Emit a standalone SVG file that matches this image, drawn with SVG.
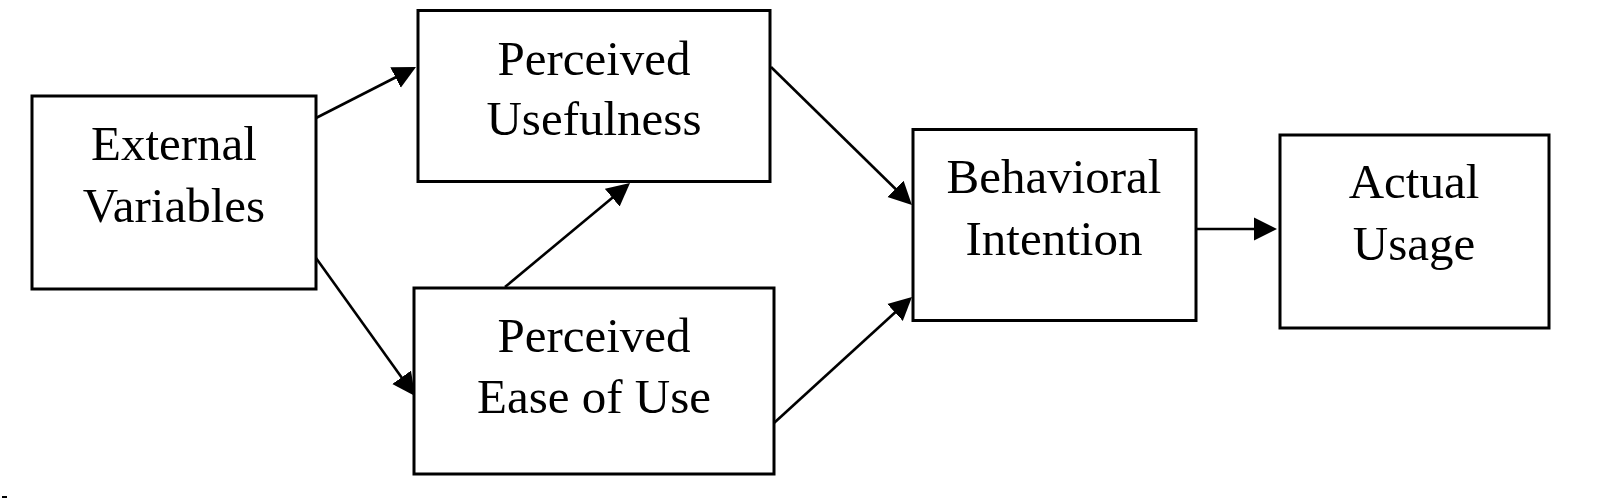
<svg xmlns="http://www.w3.org/2000/svg" width="1609" height="498" viewBox="0 0 1609 498">
<style>
.box{fill:#fff;stroke:#000;stroke-width:3}
.lbl{font-family:"Liberation Serif","Times New Roman",serif;font-size:49px;fill:#000;text-anchor:middle}
.conn{stroke:#000;stroke-width:2.6;fill:none;marker-end:url(#ah)}
</style>
<defs>
<marker id="ah" markerUnits="userSpaceOnUse" markerWidth="24" markerHeight="24" refX="13" refY="11.5" orient="auto" viewBox="0 0 24 23">
<path d="M0,0 L23,11.5 L0,23 Z" fill="#000"/>
</marker>
</defs>
<rect width="1609" height="498" fill="#fff"/>
<g id="connectors">
<line class="conn" x1="316" y1="118" x2="407.1" y2="71.5"/>
<line class="conn" x1="316" y1="258" x2="409.2" y2="387.9"/>
<line class="conn" x1="505" y1="287" x2="622.3" y2="189.4"/>
<line class="conn" x1="771" y1="67" x2="904.8" y2="198.0"/>
<line class="conn" x1="774" y1="423" x2="904.6" y2="303.7"/>
<line class="conn" x1="1196" y1="229" x2="1267" y2="229"/>
</g>
<g id="external">
<rect class="box" x="32" y="96" width="284" height="193"/>
<text class="lbl" x="174" y="160">External</text>
<text class="lbl" x="174" y="221.5">Variables</text>
</g>
<g id="usefulness">
<rect class="box" x="418" y="10.5" width="352" height="171"/>
<text class="lbl" x="594" y="75">Perceived</text>
<text class="lbl" x="594" y="135">Usefulness</text>
</g>
<g id="ease">
<rect class="box" x="414" y="288" width="360" height="186"/>
<text class="lbl" x="594" y="351.5">Perceived</text>
<text class="lbl" x="594" y="413">Ease of Use</text>
</g>
<g id="intention">
<rect class="box" x="913" y="129.5" width="283" height="191"/>
<text class="lbl" x="1054" y="192.5">Behavioral</text>
<text class="lbl" x="1054" y="255">Intention</text>
</g>
<g id="usage">
<rect class="box" x="1280" y="135" width="269" height="193"/>
<text class="lbl" x="1414" y="198">Actual</text>
<text class="lbl" x="1414" y="260">Usage</text>
</g>
<rect x="2" y="496" width="5" height="2" fill="#000"/>
</svg>
